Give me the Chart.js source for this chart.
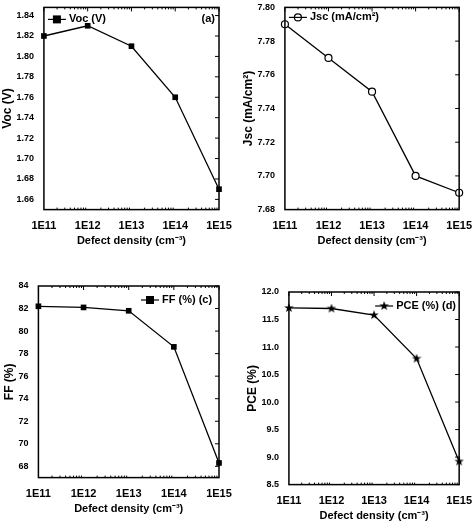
<!DOCTYPE html><html><head><script src="https://cdn.jsdelivr.net/npm/chart.js@4"></script>
<style>body{margin:0;background:#fff}.p{position:absolute;width:237px;height:263px}</style></head><body>
<div class="p" style="left:0;top:0"><canvas id="a"></canvas></div>
<div class="p" style="left:237px;top:0"><canvas id="b"></canvas></div>
<div class="p" style="left:0;top:263px"><canvas id="c"></canvas></div>
<div class="p" style="left:237px;top:263px"><canvas id="d"></canvas></div>
<script>
const densities=[11,12,13,14,15];
const voc=[1.82,1.83,1.81,1.76,1.67];
const jsc=[7.79,7.77,7.75,7.70,7.69];
const ff=[82.2,82.1,81.8,78.6,68.3];
const pce=[11.71,11.70,11.58,10.79,8.92];
const vocTicks=[1.66,1.68,1.70,1.72,1.74,1.76,1.78,1.80,1.82,1.84];
const jscTicks=[7.68,7.70,7.72,7.74,7.76,7.78,7.80];
const ffTicks=[68,70,72,74,76,78,80,82,84];
const pceTicks=[8.5,9.0,9.5,10.0,10.5,11.0,11.5,12.0];
const F='"Liberation Sans", Arial, sans-serif';
function star(){const c=document.createElement('canvas');c.width=c.height=10;const g=c.getContext('2d');g.fillStyle='#000';g.beginPath();for(let i=0;i<10;i++){const r=i%2?2:5,a=-Math.PI/2+i*Math.PI/5;g.lineTo(5+r*Math.cos(a),5+r*Math.sin(a));}g.closePath();g.fill();return c;}
const deco={id:'deco',afterDraw(ch,_,o){const g=ch.ctx,a=ch.chartArea;g.save();g.strokeStyle='#000';g.lineWidth=1.5;g.strokeRect(a.left,a.top,a.right-a.left,a.bottom-a.top);
const ys=ch.scales.y;g.lineWidth=1;ys.ticks.forEach(t=>{const y=ys.getPixelForValue(t.value);g.beginPath();g.moveTo(a.right,y);g.lineTo(a.right-4,y);g.stroke();});
const xs=ch.scales.x;densities.forEach(d=>{const x=xs.getPixelForValue(d);g.beginPath();g.moveTo(x,a.top);g.lineTo(x,a.top+4);g.stroke();for(let k=2;k<10&&d<15;k++){const xm=xs.getPixelForValue(d+Math.log10(k));g.beginPath();g.moveTo(xm,a.bottom);g.lineTo(xm,a.bottom-2);g.moveTo(xm,a.top);g.lineTo(xm,a.top+2);g.stroke();}});
g.font='bold 11px '+F;g.fillStyle='#000';g.textBaseline='middle';
const lx=o.lx==='r'?a.right-o.w:a.left+4,ly=a.top+o.ly;
g.lineWidth=1.2;g.beginPath();g.moveTo(lx,ly);g.lineTo(lx+18,ly);g.stroke();
if(o.m==='sq')g.fillRect(lx+5,ly-4,8,8);else if(o.m==='st')g.drawImage(star(),lx+4,ly-5);else{g.beginPath();g.arc(lx+9,ly,3.5,0,7);g.stroke();}
g.fillText(o.t,lx+21,ly);if(o.p){g.textAlign='right';g.fillText(o.p,a.right-4,ly);}g.restore();}};
function mk(id,data,min,max,tks,dec,title,ps,leg,pad){
new Chart(document.getElementById(id),{type:'line',data:{datasets:[{data:densities.map((d,i)=>({x:d,y:data[i]})),clip:false,borderColor:'#000',borderWidth:1.3,backgroundColor:id==='b'?'#fff':'#000',pointStyle:ps,pointRadius:id==='b'?3.5:4,pointBorderColor:'#000',pointBorderWidth:id==='b'?1.2:0,tension:0}]},
options:{responsive:true,maintainAspectRatio:false,animation:false,layout:{padding:pad},plugins:{legend:{display:false},tooltip:{enabled:false},deco:leg},
scales:{x:{type:'linear',min:11,max:15,grid:{display:false},border:{display:false},afterBuildTicks:s=>{s.ticks=densities.map(v=>({value:v}));},ticks:{color:'#000',font:{family:F,weight:'bold',size:11},callback:v=>'1E'+v,maxRotation:0,padding:2},title:{display:true,text:'Defect density (cm⁻³)',color:'#000',font:{family:F,weight:'bold',size:11},padding:0}},
y:{min:min,max:max,grid:{display:false},border:{display:false},afterBuildTicks:s=>{s.ticks=tks.map(v=>({value:v}));},ticks:{color:'#000',font:{family:F,weight:'bold',size:9},callback:v=>Number(v).toFixed(dec),padding:2},title:{display:true,text:title,color:'#000',font:{family:F,weight:'bold',size:12},padding:0}}}},plugins:[deco]});}
mk('a',voc,1.65,1.848,vocTicks,2,'Voc (V)','rect',{t:'Voc (V)',p:'(a)',m:'sq',ly:12},{top:4,right:18,bottom:15,left:0});
mk('b',jsc,7.68,7.80,jscTicks,2,'Jsc (mA/cm²)','circle',{t:'Jsc (mA/cm²)',m:'ci',ly:10},{top:4,right:10,bottom:15,left:4});
mk('c',ff,67,84,ffTicks,0,'FF (%)','rect',{t:'FF (%) (c)',m:'sq',lx:'r',w:78,ly:14},{top:23,right:18,bottom:10,left:2});
mk('d',pce,8.5,12,pceTicks,1,'PCE (%)','star',{t:'PCE (%) (d)',m:'st',lx:'r',w:84,ly:14},{top:29,right:8,bottom:3,left:8});
Object.values(Chart.instances).forEach(c=>{if(c.canvas.id==='d'){c.data.datasets[0].pointStyle=star();c.update();}});
</script></body></html>
